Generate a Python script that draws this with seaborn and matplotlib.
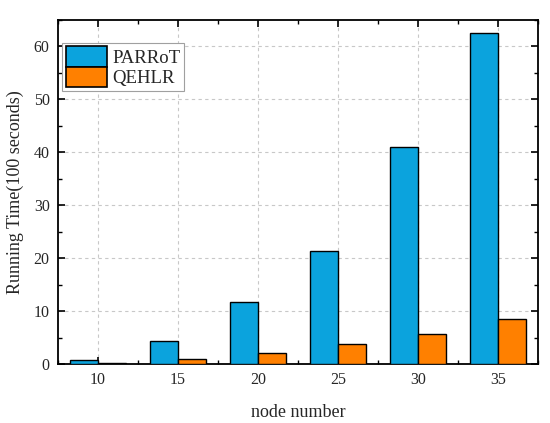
import matplotlib
matplotlib.use("Agg")
import matplotlib.pyplot as plt
from matplotlib.ticker import MultipleLocator, FixedLocator
import seaborn as sns
import pandas as pd

nodes = ["10", "15", "20", "25", "30", "35"]
parrot = [0.75, 4.4, 11.65, 21.4, 41.0, 62.6]
qehlr = [0.25, 0.9, 2.1, 3.76, 5.58, 8.46]
series_names = ["PARRoT", "QEHLR"]
colors = ["#0ba3dd", "#ff8000"]

df = pd.DataFrame({
    "node": nodes * 2,
    "time": parrot + qehlr,
    "algo": [series_names[0]] * len(nodes) + [series_names[1]] * len(nodes),
})

sns.set_style("white")
plt.rcParams["font.family"] = ["Liberation Serif", "DejaVu Serif"]

fig = plt.figure(figsize=(5.5, 4.23), dpi=100)
ax = fig.add_axes([58 / 550, 1 - 364 / 423, 480 / 550, 344 / 423])

sns.barplot(data=df, x="node", y="time", hue="algo", palette=colors, saturation=1,
            width=0.7, edgecolor="black", linewidth=1.0, ax=ax, zorder=3)

ax.set_xlim(-0.5, 5.5)
ax.set_ylim(0, 65)
ax.yaxis.set_major_locator(MultipleLocator(10))
ax.yaxis.set_minor_locator(MultipleLocator(5))
ax.xaxis.set_minor_locator(FixedLocator([i + 0.5 for i in range(-1, 6)]))

ax.grid(True, which="major", linestyle=(0, (3, 3)), color="#c8c8c8", linewidth=0.8, zorder=0)
ax.set_axisbelow(True)

for s in ax.spines.values():
    s.set_visible(True)
    s.set_linewidth(1.3)
    s.set_color("black")

ax.tick_params(which="both", direction="in", top=True, right=True, bottom=True, left=True,
               color="black", labelsize=11.5)
ax.tick_params(which="major", length=5, width=1.2, pad=6)
ax.tick_params(which="minor", length=3, width=1.0)

ax.set_xlabel("node number", fontsize=13, labelpad=11)
ax.set_ylabel("Running Time(100 seconds)", fontsize=13, labelpad=7)

leg = ax.legend(loc="upper left", bbox_to_anchor=(0.0, 0.945), fontsize=13.5,
                handlelength=2.2, handleheight=1.3, labelspacing=0.0,
                handletextpad=0.3, borderpad=0.2, borderaxespad=0.2,
                fancybox=False, framealpha=1, edgecolor="#a0a0a0")
leg.get_frame().set_linewidth(0.8)
for p in leg.get_patches():
    p.set_edgecolor("black")
    p.set_linewidth(1.2)

fig.savefig("out.png", dpi=100)
